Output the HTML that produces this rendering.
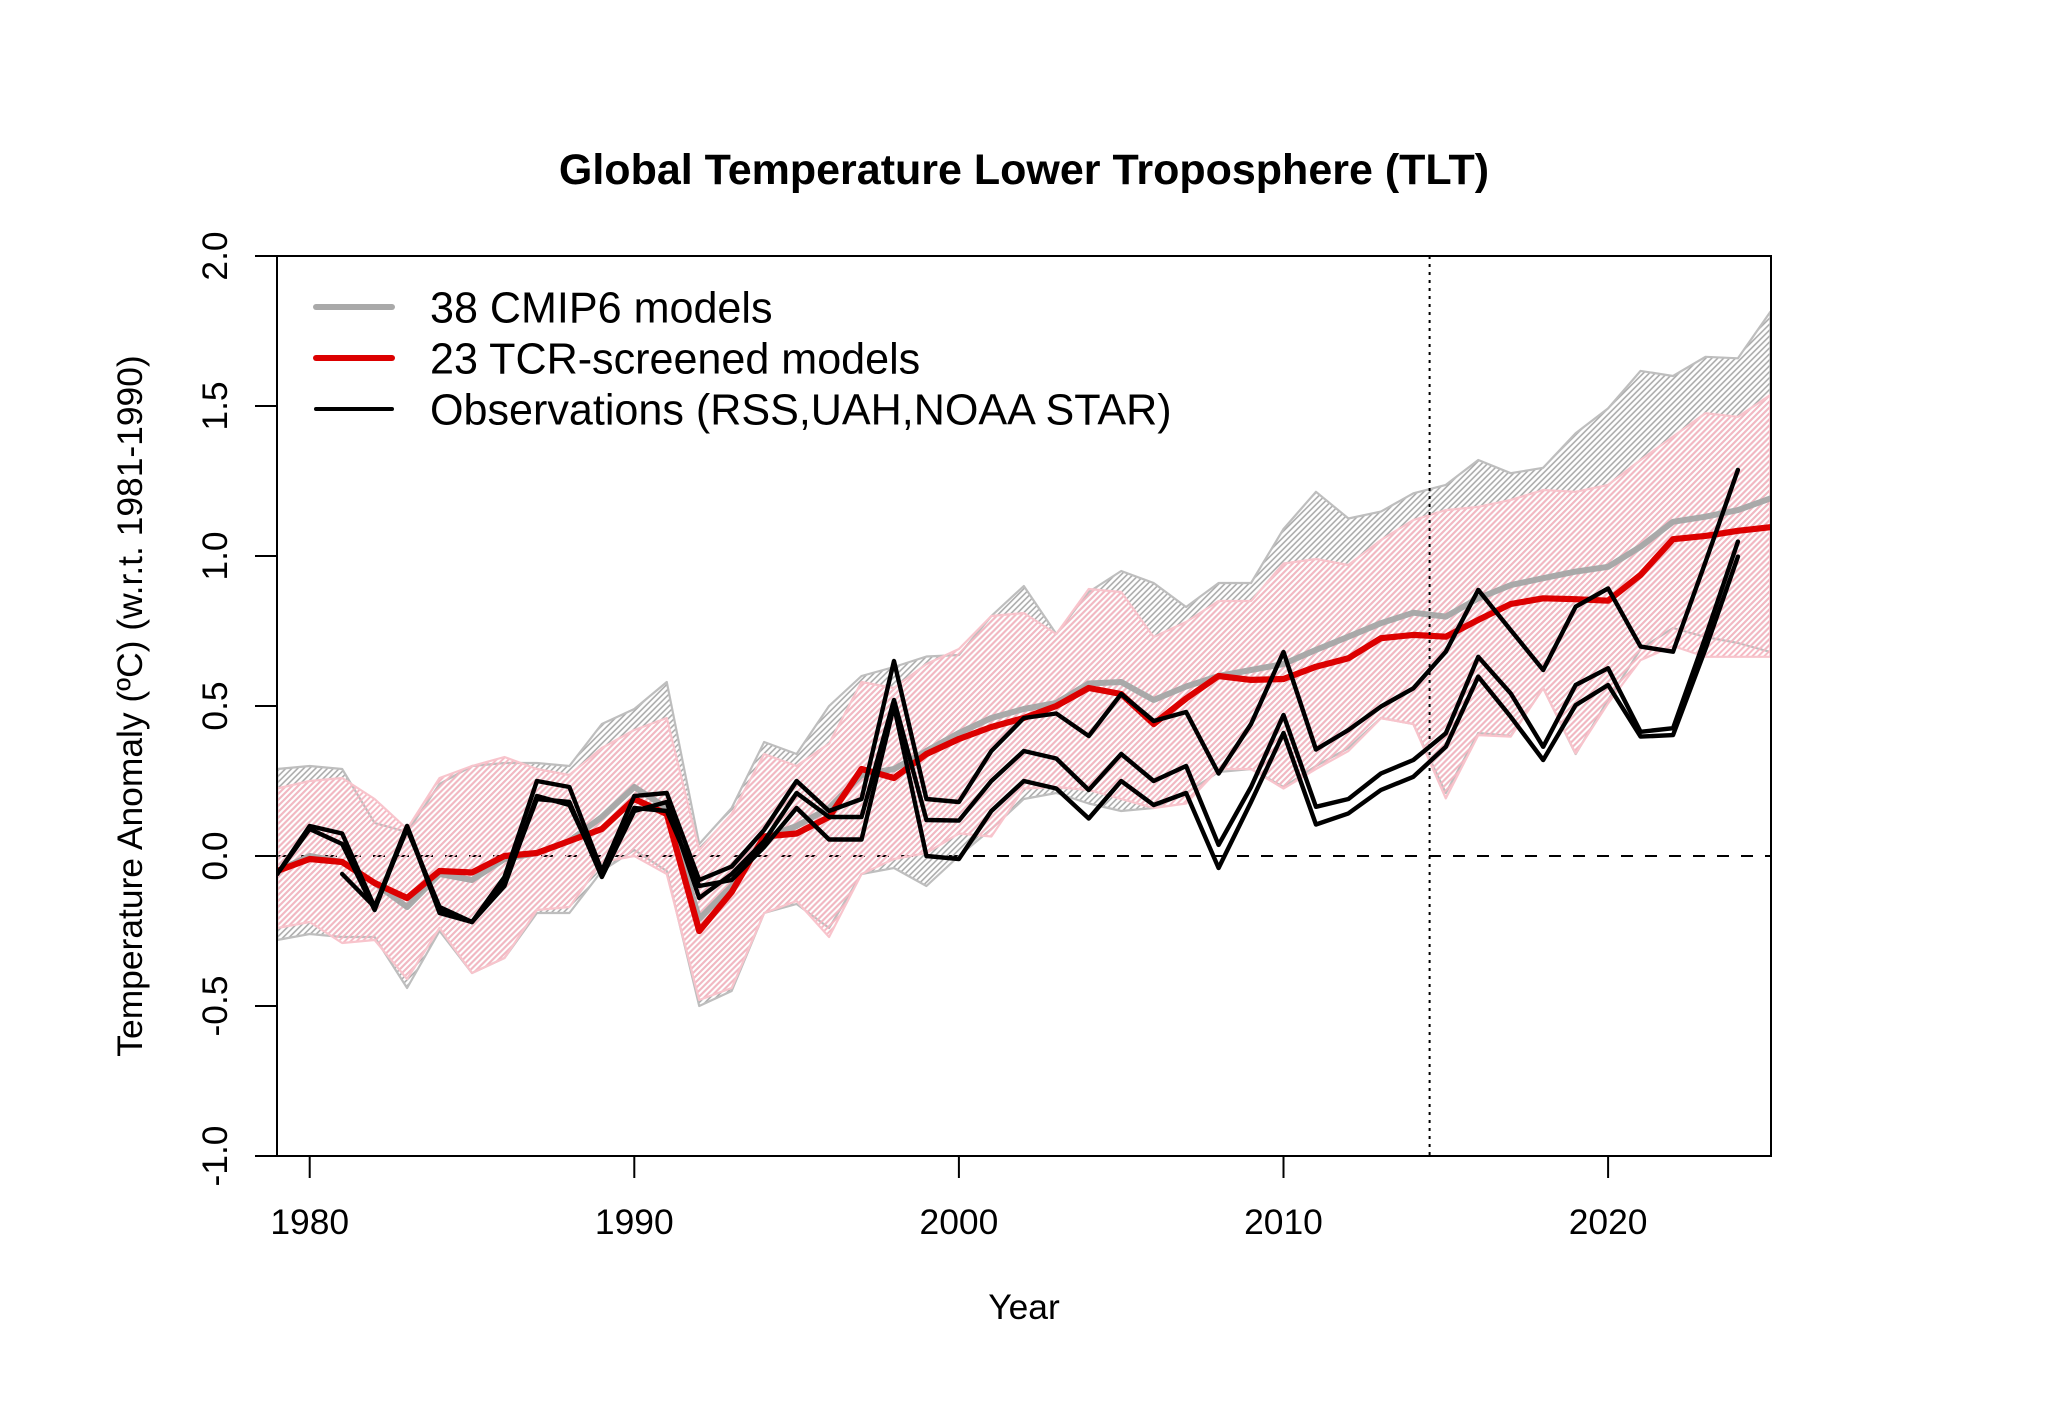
<!DOCTYPE html>
<html>
<head>
<meta charset="utf-8">
<style>
html,body{margin:0;padding:0;background:#fff;}
svg{display:block;}
text{font-family:"Liberation Sans",Arial,Helvetica,sans-serif;fill:#000;}
</style>
</head>
<body>
<svg width="2048" height="1413" viewBox="0 0 2048 1413" xmlns="http://www.w3.org/2000/svg">
<defs>
  <clipPath id="plot"><rect x="277" y="256" width="1494" height="900"/></clipPath>
  <pattern id="hg" patternUnits="userSpaceOnUse" width="4.2" height="4.2" patternTransform="rotate(45)">
    <line x1="2.1" y1="-1" x2="2.1" y2="5.2" stroke="#ABABAB" stroke-width="1.6"/>
  </pattern>
  <pattern id="hp" patternUnits="userSpaceOnUse" width="4.2" height="4.2" patternTransform="rotate(45)">
    <rect x="0" y="0" width="4.2" height="4.2" fill="none"/>
    <line x1="2.1" y1="-1" x2="2.1" y2="5.2" stroke="#F5B6C1" stroke-width="1.9"/>
  </pattern>
  <clipPath id="cg">
    <polygon transform="translate(309.7 856) scale(32.46 -300)" points="-1,0.29 0,0.30 1,0.29 2,0.11 3,0.08 4,0.24 5,0.30 6,0.31 7,0.31 8,0.30 9,0.44 10,0.49 11,0.58 12,0.04 13,0.16 14,0.38 15,0.34 16,0.50 17,0.60 18,0.63 19,0.665 20,0.67 21,0.80 22,0.90 23,0.74 24,0.88 25,0.95 26,0.91 27,0.83 28,0.91 29,0.91 30,1.09 31,1.214 32,1.125 33,1.148 34,1.209 35,1.237 36,1.32 37,1.276 38,1.294 39,1.409 40,1.492 41,1.617 42,1.60 43,1.664 44,1.659 45,1.814 45,0.68 44,0.71 43,0.73 42,0.76 41,0.69 40,0.52 39,0.34 38,0.56 37,0.40 36,0.41 35,0.21 34,0.44 33,0.46 32,0.36 31,0.30 30,0.23 29,0.29 28,0.28 27,0.21 26,0.16 25,0.15 24,0.175 23,0.21 22,0.19 21,0.09 20,0.0 19,-0.10 18,-0.04 17,-0.06 16,-0.24 15,-0.16 14,-0.19 13,-0.45 12,-0.50 11,-0.05 10,0.02 9,-0.05 8,-0.19 7,-0.19 6,-0.34 5,-0.39 4,-0.25 3,-0.44 2,-0.27 1,-0.27 0,-0.26 -1,-0.28"/>
  </clipPath>
  <clipPath id="cp">
    <polygon transform="translate(309.7 856) scale(32.46 -300)" points="-1,0.225 0,0.25 1,0.26 2,0.19 3,0.09 4,0.26 5,0.30 6,0.33 7,0.29 8,0.27 9,0.36 10,0.42 11,0.46 12,0.02 13,0.14 14,0.34 15,0.30 16,0.375 17,0.58 18,0.56 19,0.64 20,0.69 21,0.80 22,0.81 23,0.74 24,0.89 25,0.88 26,0.73 27,0.78 28,0.85 29,0.85 30,0.975 31,0.99 32,0.97 33,1.053 34,1.12 35,1.153 36,1.164 37,1.187 38,1.22 39,1.214 40,1.237 41,1.32 42,1.398 43,1.476 44,1.464 45,1.537 45,0.664 44,0.664 43,0.664 42,0.70 41,0.653 40,0.509 39,0.342 38,0.559 37,0.398 36,0.403 35,0.192 34,0.44 33,0.459 32,0.35 31,0.29 30,0.225 29,0.29 28,0.29 27,0.175 26,0.16 25,0.19 24,0.22 23,0.23 22,0.225 21,0.065 20,0.075 19,0.01 18,-0.01 17,-0.06 16,-0.27 15,-0.15 14,-0.19 13,-0.44 12,-0.48 11,-0.06 10,0.0 9,-0.02 8,-0.17 7,-0.18 6,-0.34 5,-0.39 4,-0.24 3,-0.41 2,-0.28 1,-0.29 0,-0.22 -1,-0.24"/>
  </clipPath>
</defs>

<rect x="0" y="0" width="2048" height="1413" fill="#fff"/>

<!-- Title -->
<text x="1024" y="184" text-anchor="middle" font-size="43" font-weight="bold">Global Temperature Lower Troposphere (TLT)</text>

<g clip-path="url(#plot)">
  <!-- zero line -->
  <line x1="277" y1="856" x2="1771" y2="856" stroke="#000" stroke-width="2" stroke-dasharray="12 12"/>

  <!-- gray band -->
  <rect x="277" y="256" width="1494" height="900" fill="url(#hg)" clip-path="url(#cg)"/>
  <polygon transform="translate(309.7 856) scale(32.46 -300)" fill="none" stroke="#BEBEBE" stroke-width="2.2" stroke-linejoin="round" vector-effect="non-scaling-stroke" points="-1,0.29 0,0.30 1,0.29 2,0.11 3,0.08 4,0.24 5,0.30 6,0.31 7,0.31 8,0.30 9,0.44 10,0.49 11,0.58 12,0.04 13,0.16 14,0.38 15,0.34 16,0.50 17,0.60 18,0.63 19,0.665 20,0.67 21,0.80 22,0.90 23,0.74 24,0.88 25,0.95 26,0.91 27,0.83 28,0.91 29,0.91 30,1.09 31,1.214 32,1.125 33,1.148 34,1.209 35,1.237 36,1.32 37,1.276 38,1.294 39,1.409 40,1.492 41,1.617 42,1.60 43,1.664 44,1.659 45,1.814 45,0.68 44,0.71 43,0.73 42,0.76 41,0.69 40,0.52 39,0.34 38,0.56 37,0.40 36,0.41 35,0.21 34,0.44 33,0.46 32,0.36 31,0.30 30,0.23 29,0.29 28,0.28 27,0.21 26,0.16 25,0.15 24,0.175 23,0.21 22,0.19 21,0.09 20,0.0 19,-0.10 18,-0.04 17,-0.06 16,-0.24 15,-0.16 14,-0.19 13,-0.45 12,-0.50 11,-0.05 10,0.02 9,-0.05 8,-0.19 7,-0.19 6,-0.34 5,-0.39 4,-0.25 3,-0.44 2,-0.27 1,-0.27 0,-0.26 -1,-0.28"/>

  <!-- pink band -->
  <rect x="277" y="256" width="1494" height="900" fill="url(#hp)" clip-path="url(#cp)"/>
  <polygon transform="translate(309.7 856) scale(32.46 -300)" fill="none" stroke="#F8C4CC" stroke-width="2.2" stroke-linejoin="round" vector-effect="non-scaling-stroke" points="-1,0.225 0,0.25 1,0.26 2,0.19 3,0.09 4,0.26 5,0.30 6,0.33 7,0.29 8,0.27 9,0.36 10,0.42 11,0.46 12,0.02 13,0.14 14,0.34 15,0.30 16,0.375 17,0.58 18,0.56 19,0.64 20,0.69 21,0.80 22,0.81 23,0.74 24,0.89 25,0.88 26,0.73 27,0.78 28,0.85 29,0.85 30,0.975 31,0.99 32,0.97 33,1.053 34,1.12 35,1.153 36,1.164 37,1.187 38,1.22 39,1.214 40,1.237 41,1.32 42,1.398 43,1.476 44,1.464 45,1.537 45,0.664 44,0.664 43,0.664 42,0.70 41,0.653 40,0.509 39,0.342 38,0.559 37,0.398 36,0.403 35,0.192 34,0.44 33,0.459 32,0.35 31,0.29 30,0.225 29,0.29 28,0.29 27,0.175 26,0.16 25,0.19 24,0.22 23,0.23 22,0.225 21,0.065 20,0.075 19,0.01 18,-0.01 17,-0.06 16,-0.27 15,-0.15 14,-0.19 13,-0.44 12,-0.48 11,-0.06 10,0.0 9,-0.02 8,-0.17 7,-0.18 6,-0.34 5,-0.39 4,-0.24 3,-0.41 2,-0.28 1,-0.29 0,-0.22 -1,-0.24"/>

  <!-- gray multi-model mean -->
  <polyline transform="translate(309.7 856) scale(32.46 -300)" fill="none" stroke="#A9A9A9" stroke-width="6" stroke-linejoin="round" stroke-linecap="round" vector-effect="non-scaling-stroke" points="-1,-0.05 0,0.0 1,-0.02 2,-0.09 3,-0.17 4,-0.06 5,-0.08 6,-0.01 7,0.01 8,0.05 9,0.13 10,0.23 11,0.16 12,-0.21 13,-0.10 14,0.06 15,0.10 16,0.16 17,0.27 18,0.29 19,0.35 20,0.41 21,0.46 22,0.49 23,0.51 24,0.575 25,0.58 26,0.52 27,0.565 28,0.60 29,0.62 30,0.64 31,0.687 32,0.731 33,0.776 34,0.811 35,0.798 36,0.859 37,0.903 38,0.926 39,0.948 40,0.964 41,1.031 42,1.114 43,1.131 44,1.153 45,1.192"/>

  <!-- red TCR-screened mean -->
  <polyline transform="translate(309.7 856) scale(32.46 -300)" fill="none" stroke="#DC0000" stroke-width="6.2" stroke-linejoin="round" stroke-linecap="round" vector-effect="non-scaling-stroke" points="-1,-0.05 0,-0.01 1,-0.02 2,-0.09 3,-0.14 4,-0.05 5,-0.055 6,0.0 7,0.01 8,0.05 9,0.09 10,0.19 11,0.14 12,-0.25 13,-0.12 14,0.065 15,0.075 16,0.13 17,0.29 18,0.26 19,0.34 20,0.39 21,0.43 22,0.46 23,0.50 24,0.56 25,0.54 26,0.44 27,0.525 28,0.60 29,0.587 30,0.59 31,0.631 32,0.659 33,0.726 34,0.737 35,0.731 36,0.787 37,0.84 38,0.859 39,0.856 40,0.851 41,0.937 42,1.056 43,1.067 44,1.084 45,1.096"/>

  <!-- observations -->
  <polyline transform="translate(309.7 856) scale(32.46 -300)" fill="none" stroke="#000" stroke-width="4.4" stroke-linejoin="round" stroke-linecap="round" vector-effect="non-scaling-stroke" points="-1,-0.06 0,0.10 1,0.075 2,-0.17 3,0.10 4,-0.18 5,-0.22 6,-0.07 7,0.25 8,0.23 9,-0.05 10,0.20 11,0.21 12,-0.08 13,-0.035 14,0.087 15,0.25 16,0.15 17,0.19 18,0.65 19,0.19 20,0.18 21,0.35 22,0.46 23,0.475 24,0.40 25,0.54 26,0.45 27,0.48 28,0.275 29,0.44 30,0.68 31,0.355 32,0.42 33,0.498 34,0.559 35,0.681 36,0.887 37,0.753 38,0.62 39,0.831 40,0.892 41,0.698 42,0.681 43,0.98 44,1.287"/>
  <polyline transform="translate(309.7 856) scale(32.46 -300)" fill="none" stroke="#000" stroke-width="4.4" stroke-linejoin="round" stroke-linecap="round" vector-effect="non-scaling-stroke" points="-1,-0.06 0,0.09 1,0.04 2,-0.18 3,0.10 4,-0.19 5,-0.22 6,-0.09 7,0.19 8,0.18 9,-0.07 10,0.15 11,0.18 12,-0.14 13,-0.06 14,0.05 15,0.21 16,0.13 17,0.13 18,0.52 19,0.12 20,0.118 21,0.25 22,0.35 23,0.325 24,0.22 25,0.34 26,0.25 27,0.30 28,0.037 29,0.23 30,0.47 31,0.164 32,0.19 33,0.275 34,0.32 35,0.409 36,0.664 37,0.542 38,0.364 39,0.57 40,0.626 41,0.414 42,0.426 43,0.73 44,1.048"/>
  <polyline transform="translate(309.7 856) scale(32.46 -300)" fill="none" stroke="#000" stroke-width="4.4" stroke-linejoin="round" stroke-linecap="round" vector-effect="non-scaling-stroke" points="1,-0.06 2,-0.17 3,0.09 4,-0.17 5,-0.22 6,-0.10 7,0.20 8,0.17 9,-0.06 10,0.16 11,0.15 12,-0.10 13,-0.08 14,0.03 15,0.16 16,0.055 17,0.055 18,0.50 19,0.0 20,-0.01 21,0.15 22,0.25 23,0.225 24,0.125 25,0.25 26,0.17 27,0.21 28,-0.04 29,0.18 30,0.41 31,0.105 32,0.142 33,0.22 34,0.264 35,0.364 36,0.598 37,0.464 38,0.32 39,0.503 40,0.57 41,0.398 42,0.403 43,0.69 44,0.998"/>

  <!-- vertical dotted line -->
  <line x1="1429.6" y1="256" x2="1429.6" y2="1156" stroke="#000" stroke-width="2" stroke-dasharray="3 5"/>
</g>

<!-- box -->
<rect x="277" y="256" width="1494" height="900" fill="none" stroke="#000" stroke-width="2"/>

<!-- y ticks -->
<g stroke="#000" stroke-width="2">
  <line x1="255" y1="256" x2="277" y2="256"/>
  <line x1="255" y1="406" x2="277" y2="406"/>
  <line x1="255" y1="556" x2="277" y2="556"/>
  <line x1="255" y1="706" x2="277" y2="706"/>
  <line x1="255" y1="856" x2="277" y2="856"/>
  <line x1="255" y1="1006" x2="277" y2="1006"/>
  <line x1="255" y1="1156" x2="277" y2="1156"/>
</g>
<g font-size="35.4" text-anchor="middle">
  <text x="227" y="256" transform="rotate(-90 227 256)">2.0</text>
  <text x="227" y="406" transform="rotate(-90 227 406)">1.5</text>
  <text x="227" y="556" transform="rotate(-90 227 556)">1.0</text>
  <text x="227" y="706" transform="rotate(-90 227 706)">0.5</text>
  <text x="227" y="856" transform="rotate(-90 227 856)">0.0</text>
  <text x="227" y="1006" transform="rotate(-90 227 1006)">-0.5</text>
  <text x="227" y="1156" transform="rotate(-90 227 1156)">-1.0</text>
</g>

<!-- x ticks -->
<g stroke="#000" stroke-width="2">
  <line x1="309.7" y1="1156" x2="309.7" y2="1178"/>
  <line x1="634.3" y1="1156" x2="634.3" y2="1178"/>
  <line x1="958.9" y1="1156" x2="958.9" y2="1178"/>
  <line x1="1283.5" y1="1156" x2="1283.5" y2="1178"/>
  <line x1="1608.1" y1="1156" x2="1608.1" y2="1178"/>
</g>
<g font-size="35.4" text-anchor="middle">
  <text x="309.7" y="1234">1980</text>
  <text x="634.3" y="1234">1990</text>
  <text x="958.9" y="1234">2000</text>
  <text x="1283.5" y="1234">2010</text>
  <text x="1608.1" y="1234">2020</text>
</g>

<!-- axis labels -->
<text x="1024" y="1319" font-size="35.4" text-anchor="middle">Year</text>
<text x="142" y="706" font-size="35.4" text-anchor="middle" transform="rotate(-90 142 706)">Temperature Anomaly (ºC) (w.r.t. 1981-1990)</text>

<!-- legend -->
<line x1="316" y1="307" x2="392" y2="307" stroke="#A9A9A9" stroke-width="6" stroke-linecap="round"/>
<line x1="316" y1="358" x2="392" y2="358" stroke="#DC0000" stroke-width="6" stroke-linecap="round"/>
<line x1="316" y1="409" x2="392" y2="409" stroke="#000" stroke-width="4" stroke-linecap="round"/>
<g font-size="43.1">
  <text x="430" y="322.5">38 CMIP6 models</text>
  <text x="430" y="373.5">23 TCR-screened models</text>
  <text x="430" y="424.5">Observations (RSS,UAH,NOAA STAR)</text>
</g>
</svg>
</body>
</html>
